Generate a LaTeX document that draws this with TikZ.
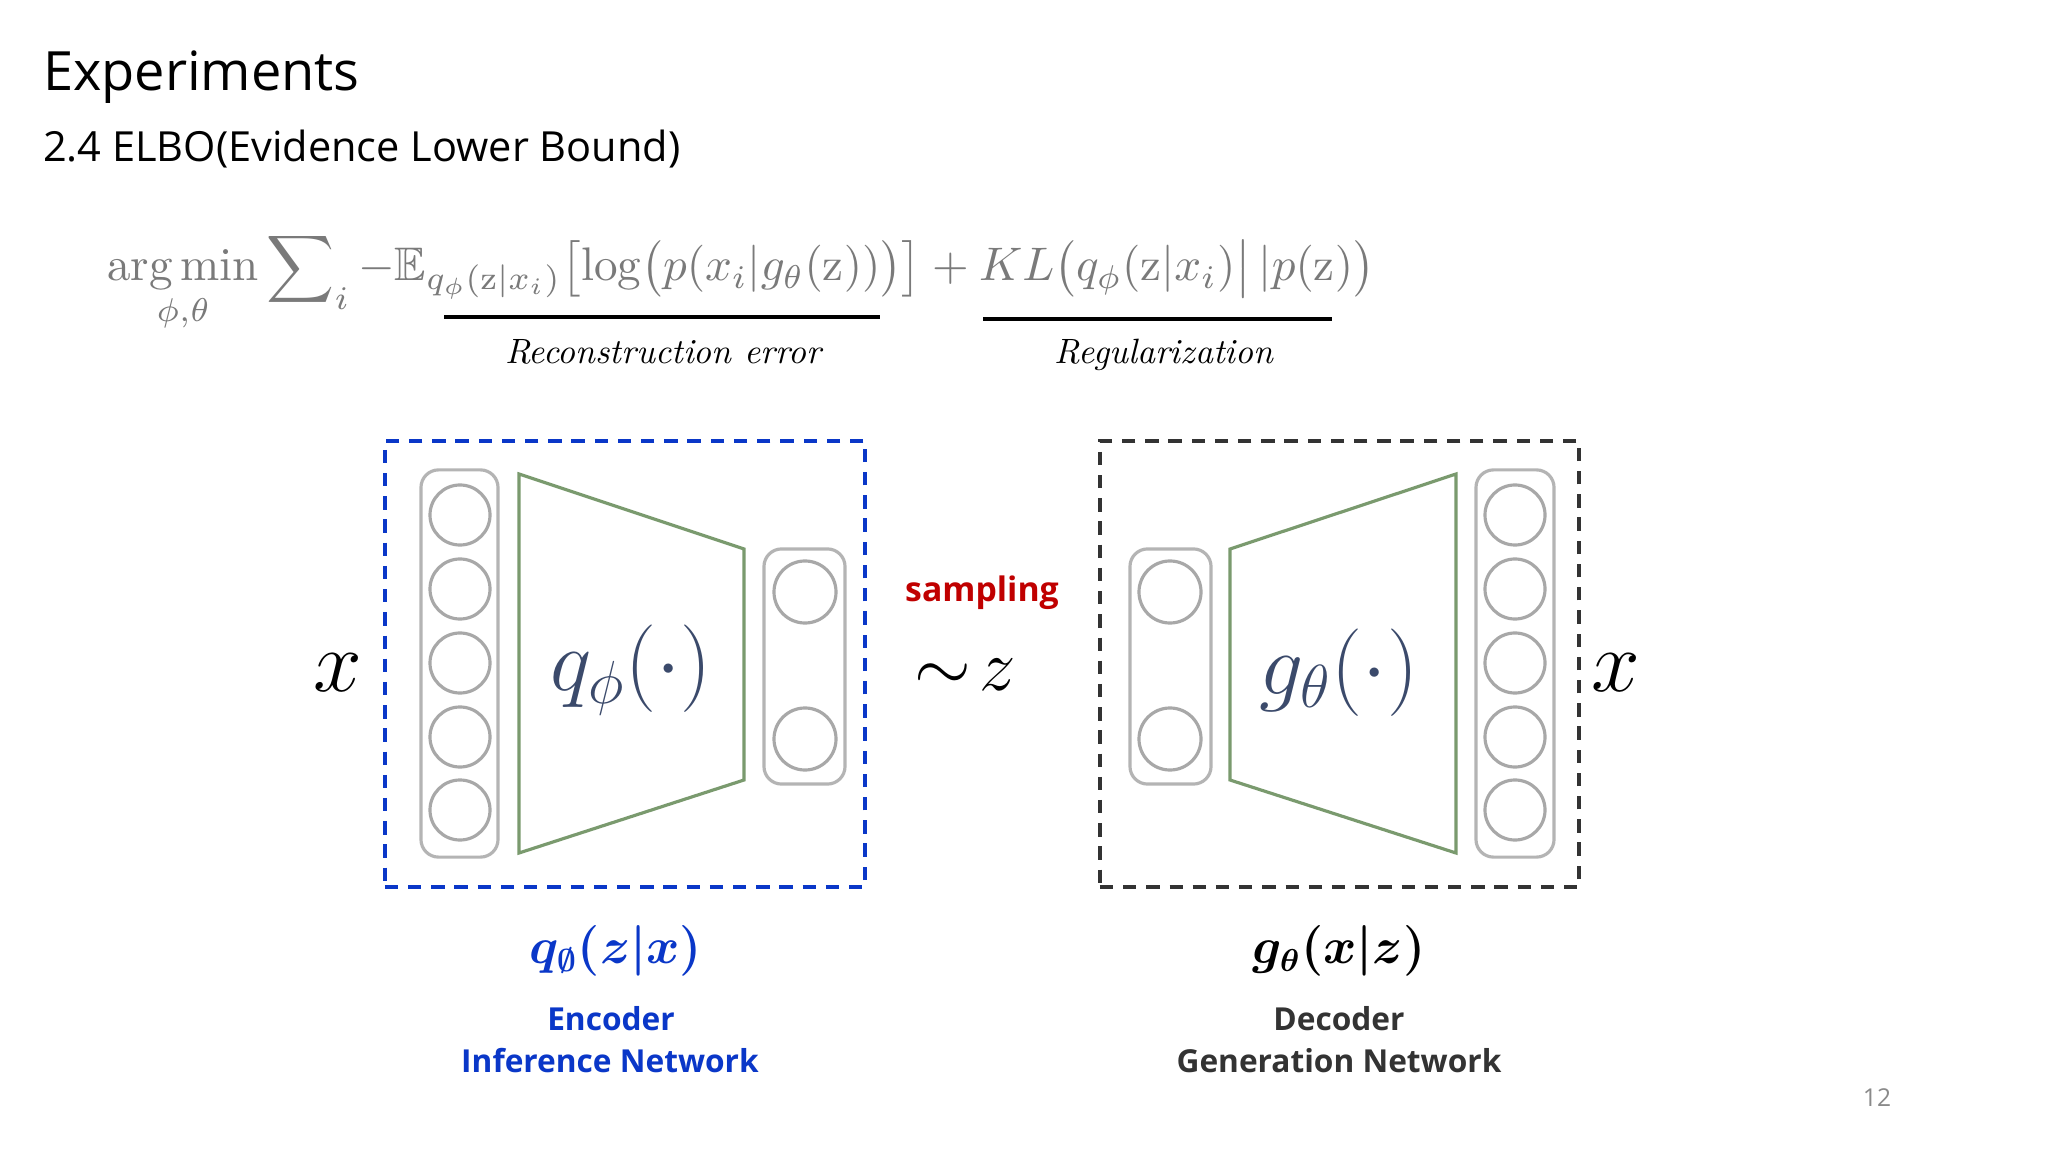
\documentclass[tikz,border=0pt]{standalone}
\usepackage{amsmath,amssymb,bm}
\usepackage{graphicx}
\usepackage{fontspec}
\newfontfamily\uifont{Open Sans}
\definecolor{encblue}{HTML}{0A37C8}
\definecolor{samplered}{HTML}{C00000}
\definecolor{formgray}{HTML}{7A7A7A}
\definecolor{mathslate}{HTML}{3B4A6B}
\definecolor{circgray}{HTML}{A8A8A8}
\definecolor{boxgray}{HTML}{B4B4B4}
\definecolor{trapgreen}{HTML}{7A9A6E}
\definecolor{darkdash}{HTML}{333333}
\definecolor{pagegray}{HTML}{8A8A8A}
\begin{document}
\begin{tikzpicture}[x=0.01cm,y=-0.01cm,
  every node/.style={inner sep=0pt,outer sep=0pt},
  layerbox/.style={draw=boxgray,line width=0.9pt,rounded corners=5pt},
  neuron/.style={circle,draw=circgray,line width=0.9pt,minimum size=0.6cm},
  trap/.style={draw=trapgreen,line width=0.9pt,line join=miter},
  encframe/.style={draw=encblue,line width=1pt,dash pattern=on 3.8pt off 2.8pt,minimum width=4.8cm,minimum height=4.46cm},
  decframe/.style={draw=darkdash,line width=1pt,dash pattern=on 3.8pt off 2.8pt,minimum width=4.79cm,minimum height=4.46cm},
  bigmath/.style={font=\fontsize{27}{32}\selectfont,text=mathslate},
  varx/.style={font=\fontsize{23}{28}\selectfont},
  underl/.style={line width=0.9pt,draw=black},
  termlabel/.style={font=\fontsize{10}{12}\selectfont\itshape,anchor=base},
  enctext/.style={font=\uifont\bfseries\fontsize{9}{11}\selectfont,text=encblue,anchor=base},
  dectext/.style={font=\uifont\bfseries\fontsize{9}{11}\selectfont,text=darkdash,anchor=base}
]
\useasboundingbox[fill=white] (0,0) rectangle (2048,1152);

% titles
\node[anchor=base west,font=\uifont\fontsize{15.4}{18}\selectfont] (title) at (43,91) {Experiments};
\node[anchor=base west,font=\uifont\fontsize{11.8}{14}\selectfont] (subtitle) at (43,162) {2.4 ELBO(Evidence Lower Bound)};

% formula
\node[anchor=base west,text=formgray] (formula) at (107,281) {\resizebox{12.67cm}{!}{$\displaystyle \operatorname*{arg\,min}_{\phi,\theta}\sum\nolimits_{i} -\mathbb{E}_{q_\phi(\mathrm{z}|x_i)}\bigl[\log\bigl(p(x_i|g_\theta(\mathrm{z}))\bigr)\bigr] + KL\bigl(q_\phi(\mathrm{z}|x_i)\big|\,|p(\mathrm{z})\bigr)$}};

\coordinate (u1a) at (444,317); \coordinate (u1b) at (880,317);
\coordinate (u2a) at (983,319); \coordinate (u2b) at (1332,319);
\draw[underl] (u1a) -- (u1b);
\draw[underl] (u2a) -- (u2b);
\node[termlabel] (recon) at (663,364) {Reconstruction error};
\node[termlabel] (regul) at (1164,364) {Regularization};

% encoder
\node[encframe] (encbox) at (625,664) {};
\node[layerbox,minimum width=0.77cm,minimum height=3.87cm] (encin) at (459.5,663.5) {};
\foreach \k/\yy in {1/515,2/589,3/663,4/737,5/810}
  \node[neuron] (ein\k) at (460,\yy) {};
\draw[trap] (519,474) -- (744,549) -- (744,780) -- (519,853) -- cycle;
\node[layerbox,minimum width=0.81cm,minimum height=2.35cm] (enclat) at (804.5,666.5) {};
\node[neuron,minimum size=0.62cm] (el1) at (805,592) {};
\node[neuron,minimum size=0.62cm] (el2) at (805,739) {};
\node[bigmath] (qphi) at (631,670) {$q_\phi(\cdot)$};

% decoder
\node[decframe] (decbox) at (1339.5,664) {};
\node[layerbox,minimum width=0.81cm,minimum height=2.35cm] (declat) at (1170.5,666.5) {};
\node[neuron,minimum size=0.62cm] (dl1) at (1170,592) {};
\node[neuron,minimum size=0.62cm] (dl2) at (1170,739) {};
\draw[trap] (1230,549) -- (1456,474) -- (1456,853) -- (1230,780) -- cycle;
\node[layerbox,minimum width=0.78cm,minimum height=3.87cm] (decout) at (1515,663.5) {};
\foreach \k/\yy in {1/515,2/589,3/663,4/737,5/810}
  \node[neuron] (dout\k) at (1515,\yy) {};
\node[bigmath] (gtheta) at (1339,673) {$g_\theta(\cdot)$};

% variables
\node[varx,anchor=base] (xin) at (338,692) {$x$};
\node[varx,anchor=base] (xout) at (1616,692) {$x$};
\node[anchor=base,font=\fontsize{20}{24}\selectfont] (zs) at (965,690) {$\sim\!z$};
\node[anchor=base,font=\uifont\bfseries\fontsize{9.6}{12}\selectfont,text=samplered] (sampling) at (982,601) {sampling};

% bottom labels
\node[text=encblue,font=\fontsize{13.5}{16}\selectfont] (qlab) at (616,951) {$\bm{q_{\emptyset}(z|x)}$};
\node[enctext] (enc1) at (611,1030) {Encoder};
\node[enctext] (enc2) at (610,1072) {Inference Network};
\node[font=\fontsize{13.5}{16}\selectfont] (glab) at (1339,951) {$\bm{g_{\theta}(x|z)}$};
\node[dectext] (dec1) at (1339,1030) {Decoder};
\node[dectext] (dec2) at (1339,1072) {Generation Network};

\node[font=\uifont\fontsize{7}{8}\selectfont,text=pagegray] (pnum) at (1877,1098) {12};
\end{tikzpicture}
\end{document}
